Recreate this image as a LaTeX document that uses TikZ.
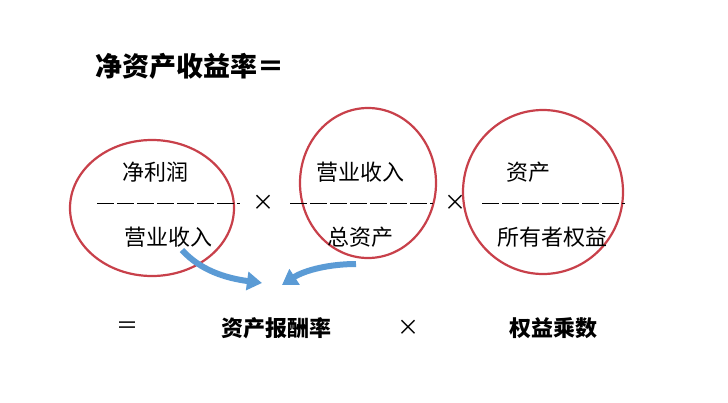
\documentclass[tikz,border=0pt]{standalone}
\usepackage{fontspec}
\setmainfont{Noto Sans CJK SC}
\usetikzlibrary{arrows.meta}
\definecolor{ringred}{HTML}{C8404A}
\definecolor{arrblue}{HTML}{5B9BD5}
\tikzset{
  ring/.style={draw=ringred,line width=2.2pt},
  txt/.style={font=\fontsize{22}{22}\selectfont,inner sep=0pt},
  btxt/.style={font=\fontsize{22}{22}\selectfont\bfseries,inner sep=0pt},
  barline/.style={line width=0.8pt,dash pattern=on 17pt off 3pt},
  barrow/.style={arrblue,line width=6pt,-{Triangle[width=18pt,length=15pt]}}
}
\begin{document}
\begin{tikzpicture}[x=1pt,y=-1pt]
\useasboundingbox[fill=white] (0,0) rectangle (728,402);
\node[btxt,anchor=west,font=\fontsize{27}{27}\selectfont\bfseries] (title) at (95,66) {净资产收益率＝};
\draw[ring] (152,208) ellipse [x radius=82,y radius=68];
\draw[ring] (368,183) ellipse [x radius=68,y radius=75];
\draw[ring] (543,192) ellipse [x radius=80,y radius=82];
\node[txt] (n1) at (155,172) {净利润};
\coordinate (l1a) at (97,203); \coordinate (l1b) at (240,203);
\draw[barline] (l1a) -- (l1b);
\node[txt] (d1) at (168,237) {营业收入};
\node[txt] (x1) at (263,203) {×};
\node[txt] (n2) at (360,172) {营业收入};
\coordinate (l2a) at (290,203); \coordinate (l2b) at (433,203);
\draw[barline] (l2a) -- (l2b);
\node[txt] (d2) at (360,237) {总资产};
\node[txt] (x2) at (455,203) {×};
\node[txt] (n3) at (528,172) {资产};
\coordinate (l3a) at (482,203); \coordinate (l3b) at (625,203);
\draw[barline] (l3a) -- (l3b);
\node[txt] (d3) at (552,237) {所有者权益};
\node[txt] (eq) at (127,328) {＝};
\node[btxt] (r1) at (276,328) {资产报酬率};
\node[txt] (x3) at (408,328) {×};
\node[btxt] (r2) at (553,328) {权益乘数};
\coordinate (a1s) at (182,250);
\coordinate (a1e) at (262,283);
\coordinate (a2s) at (356,264);
\coordinate (a2e) at (282,285);
\draw[barrow] (a1s) .. controls (200,270) and (225,278) .. (a1e);
\draw[barrow] (a2s) .. controls (330,264) and (305,270) .. (a2e);
\end{tikzpicture}
\end{document}
